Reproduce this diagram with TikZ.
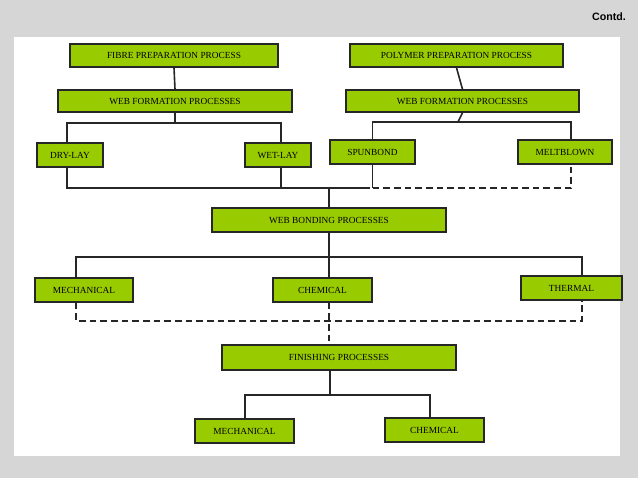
\documentclass[tikz,border=0pt]{standalone}
\usepackage{fontspec}
\setmainfont{Liberation Serif}
\newfontfamily\contdfont{Liberation Sans}
\definecolor{boxgreen}{HTML}{99CC00}
\definecolor{bggray}{HTML}{D6D6D6}
\begin{document}
\begin{tikzpicture}[x=0.75pt,y=-0.75pt,
  pbox/.style={draw=black!85,line width=1.1pt,fill=boxgreen,inner sep=0pt,font=\fontsize{7}{8}\selectfont},
  conn/.style={line width=1.2pt,black!85},
  dconn/.style={conn,dash pattern=on 5pt off 3pt}]
\fill[bggray] (0,0) rectangle (638,478);
\fill[white] (14,37) rectangle (620,456);
\useasboundingbox (0,0) rectangle (638,478);
\node[font=\contdfont\bfseries\fontsize{8}{9}\selectfont] (contd) at (609,17) {Contd.};
\newcommand\pnode[6]{\node[pbox,minimum width=#4*0.75pt,minimum height=#5*0.75pt] (#1) at (#2,#3) {#6};}
\pnode{fibre}{174}{55.5}{208}{23}{FIBRE PREPARATION PROCESS}
\pnode{poly}{456.5}{55.5}{213}{23}{POLYMER PREPARATION PROCESS}
\pnode{webl}{175}{101}{234}{22}{WEB FORMATION PROCESSES}
\pnode{webr}{462.5}{101}{233}{22}{WEB FORMATION PROCESSES}
\pnode{dry}{70}{155}{66}{24}{DRY-LAY}
\pnode{wet}{278}{155}{66}{24}{WET-LAY}
\pnode{spun}{372.5}{152}{85}{24}{SPUNBOND}
\pnode{melt}{565}{152}{94}{24}{MELTBLOWN}
\pnode{bond}{329}{220}{234}{24}{WEB BONDING PROCESSES}
\pnode{mech}{84}{290}{98}{24}{MECHANICAL}
\pnode{chem}{322.5}{290}{99}{24}{CHEMICAL}
\pnode{therm}{571.5}{288}{101}{24}{THERMAL}
\pnode{fin}{339}{357.5}{234}{25}{FINISHING PROCESSES}
\pnode{mechb}{244.5}{431}{99}{24}{MECHANICAL}
\pnode{chemb}{434.5}{430}{99}{24}{CHEMICAL}
% top left
\draw[conn] (fibre.south) -- (webl.north);
\draw[conn] (poly.south) -- (webr.north);
\draw[conn] (webl.south) -- (175,123);
\draw[conn] (dry.north -| 67,0) |- (123,123) -- (281,123) -- (wet.north -| 281,0);
\draw[conn] (webr.south) -- (458,122);
\draw[conn] (spun.north) |- (571,122) -- (melt.north -| 571,0);
\draw[conn] (dry.south -| 67,0) |- (370,188);
\draw[conn] (wet.south -| 281,0) -- (281,188);
\draw[conn] (spun.south) -- (372.5,188);
\draw[dconn] (372.5,188) -- (571,188) -- (melt.south -| 571,0);
\draw[conn] (329,188) -- (bond.north);
% bonding
\draw[conn] (bond.south) -- (329,257);
\draw[conn] (mech.north -| 76,0) |- (582,257) -- (therm.north -| 582,0);
\draw[conn] (329,257) -- (chem.north -| 329,0);
\draw[dconn] (mech.south -| 76,0) |- (582,321) -- (therm.south -| 582,0);
\draw[dconn] (chem.south -| 329,0) -- (fin.north -| 329,0);
% finishing
\draw[conn] (fin.south -| 330,0) -- (330,395);
\draw[conn] (mechb.north -| 245,0) |- (430,395) -- (chemb.north -| 430,0);
\end{tikzpicture}
\end{document}
